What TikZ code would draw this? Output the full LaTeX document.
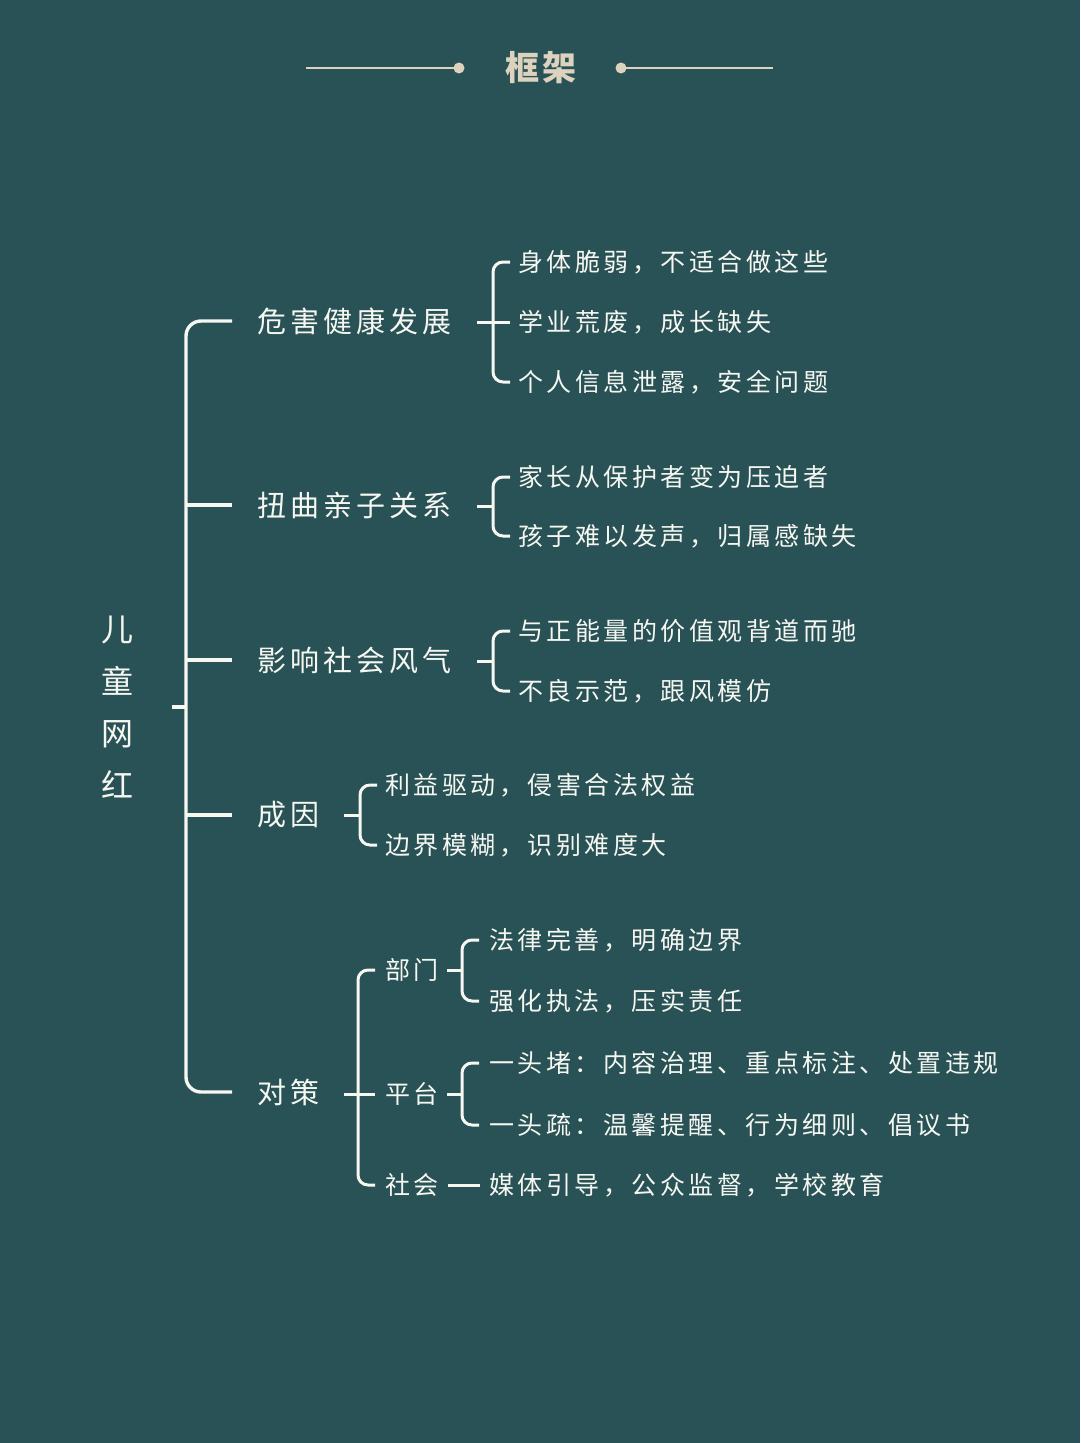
\documentclass[tikz,border=0pt]{standalone}
\usepackage{fontspec}
\setmainfont{Noto Sans CJK SC}
\definecolor{bgteal}{HTML}{285256}
\definecolor{sand}{HTML}{DCD2BD}
\definecolor{chalk}{HTML}{F7F7F2}

\tikzset{
  branch/.style={draw=chalk, line width=3.4pt, rounded corners=15pt},
  twig/.style={draw=chalk, line width=3pt, rounded corners=10pt},
  topic/.style={anchor=west, inner sep=0pt, text=chalk,
    font=\fontsize{29}{30}\selectfont\addfontfeatures{LetterSpace=14}},
  leaf/.style={anchor=west, inner sep=0pt, text=chalk,
    font=\fontsize{25}{26}\selectfont\addfontfeatures{LetterSpace=14}},
}

\begin{document}
\begin{tikzpicture}[x=1pt,y=-1pt]

\fill[bgteal] (0,0) rectangle (1080,1443);
\useasboundingbox (0,0) rectangle (1080,1443);

% title
\node[text=sand, font=\fontsize{34}{36}\selectfont\bfseries\addfontfeatures{LetterSpace=8}] (ttl) at (541,68) {框架};
\draw[sand, line width=2pt] (306,68) -- (459,68);
\draw[sand, line width=2pt] (621,68) -- (773,68);
\fill[sand] (459,68) circle (5.5) (621,68) circle (5.5);

% root
\node[text=chalk, inner sep=0pt, align=center, font=\fontsize{32}{52}\selectfont] (root) at (117,707) {儿\\童\\网\\红};

% first level
\node[topic] (t1) at (257,321) {危害健康发展};
\node[topic] (t2) at (257,505) {扭曲亲子关系};
\node[topic] (t3) at (257,660) {影响社会风气};
\node[topic] (t4) at (257,815) {成因};
\node[topic] (t5) at (257,1092) {对策};

\coordinate (spine) at (186,707);
\draw[branch] ([xshift=-25pt]t1.west) -| (spine) |- ([xshift=-25pt]t5.west);
\foreach \t in {t2,t3,t4}
  \draw[branch] ([xshift=-25pt]\t.west) -- (spine |- \t.west);
\draw[branch] (172,707) -- (spine);

% harm
\node[leaf] (a1) at (518,262) {身体脆弱，不适合做这些};
\node[leaf] (a2) at (518,322) {学业荒废，成长缺失};
\node[leaf] (a3) at (518,382) {个人信息泄露，安全问题};
\coordinate (k1) at (493,322);
\draw[twig] ([xshift=-8pt]a1.west) -| (k1) |- ([xshift=-8pt]a3.west);
\draw[twig] ([xshift=-8pt]a2.west) -- (k1);
\draw[twig] (477,322) -- (k1);

% family
\node[leaf] (b1) at (518,477) {家长从保护者变为压迫者};
\node[leaf] (b2) at (518,536) {孩子难以发声，归属感缺失};
\coordinate (k2) at (493,506);
\draw[twig] ([xshift=-8pt]b1.west) -| (k2) |- ([xshift=-8pt]b2.west);
\draw[twig] (477,506) -- (k2);

% society
\node[leaf] (c1) at (518,631) {与正能量的价值观背道而驰};
\node[leaf] (c2) at (518,691) {不良示范，跟风模仿};
\coordinate (k3) at (493,661);
\draw[twig] ([xshift=-8pt]c1.west) -| (k3) |- ([xshift=-8pt]c2.west);
\draw[twig] (477,661) -- (k3);

% causes
\node[leaf] (d1) at (385,785) {利益驱动，侵害合法权益};
\node[leaf] (d2) at (385,845) {边界模糊，识别难度大};
\coordinate (k4) at (360,815);
\draw[twig] ([xshift=-8pt]d1.west) -| (k4) |- ([xshift=-8pt]d2.west);
\draw[twig] (344,815) -- (k4);

% measures
\node[leaf] (s1) at (385,970) {部门};
\node[leaf] (s2) at (385,1094) {平台};
\node[leaf] (s3) at (385,1185) {社会};
\coordinate (k5) at (358,1094);
\draw[twig] ([xshift=-10pt]s1.west) -| (k5) |- ([xshift=-10pt]s3.west);
\draw[twig] (344,1094) -- ([xshift=-10pt]s2.west);

\node[leaf] (e1) at (489,940) {法律完善，明确边界};
\node[leaf] (e2) at (489,1001) {强化执法，压实责任};
\coordinate (k6) at (462,970);
\draw[twig] ([xshift=-10pt]e1.west) -| (k6) |- ([xshift=-10pt]e2.west);
\draw[twig] (447,970) -- (k6);

\node[leaf] (f1) at (489,1063) {一头堵：内容治理、重点标注、处置违规};
\node[leaf] (f2) at (489,1125) {一头疏：温馨提醒、行为细则、倡议书};
\coordinate (k7) at (462,1094);
\draw[twig] ([xshift=-10pt]f1.west) -| (k7) |- ([xshift=-10pt]f2.west);
\draw[twig] (447,1094) -- (k7);

\node[leaf] (g1) at (489,1185) {媒体引导，公众监督，学校教育};
\draw[twig] (448,1185) -- ([xshift=-9pt]g1.west);

\end{tikzpicture}
\end{document}
